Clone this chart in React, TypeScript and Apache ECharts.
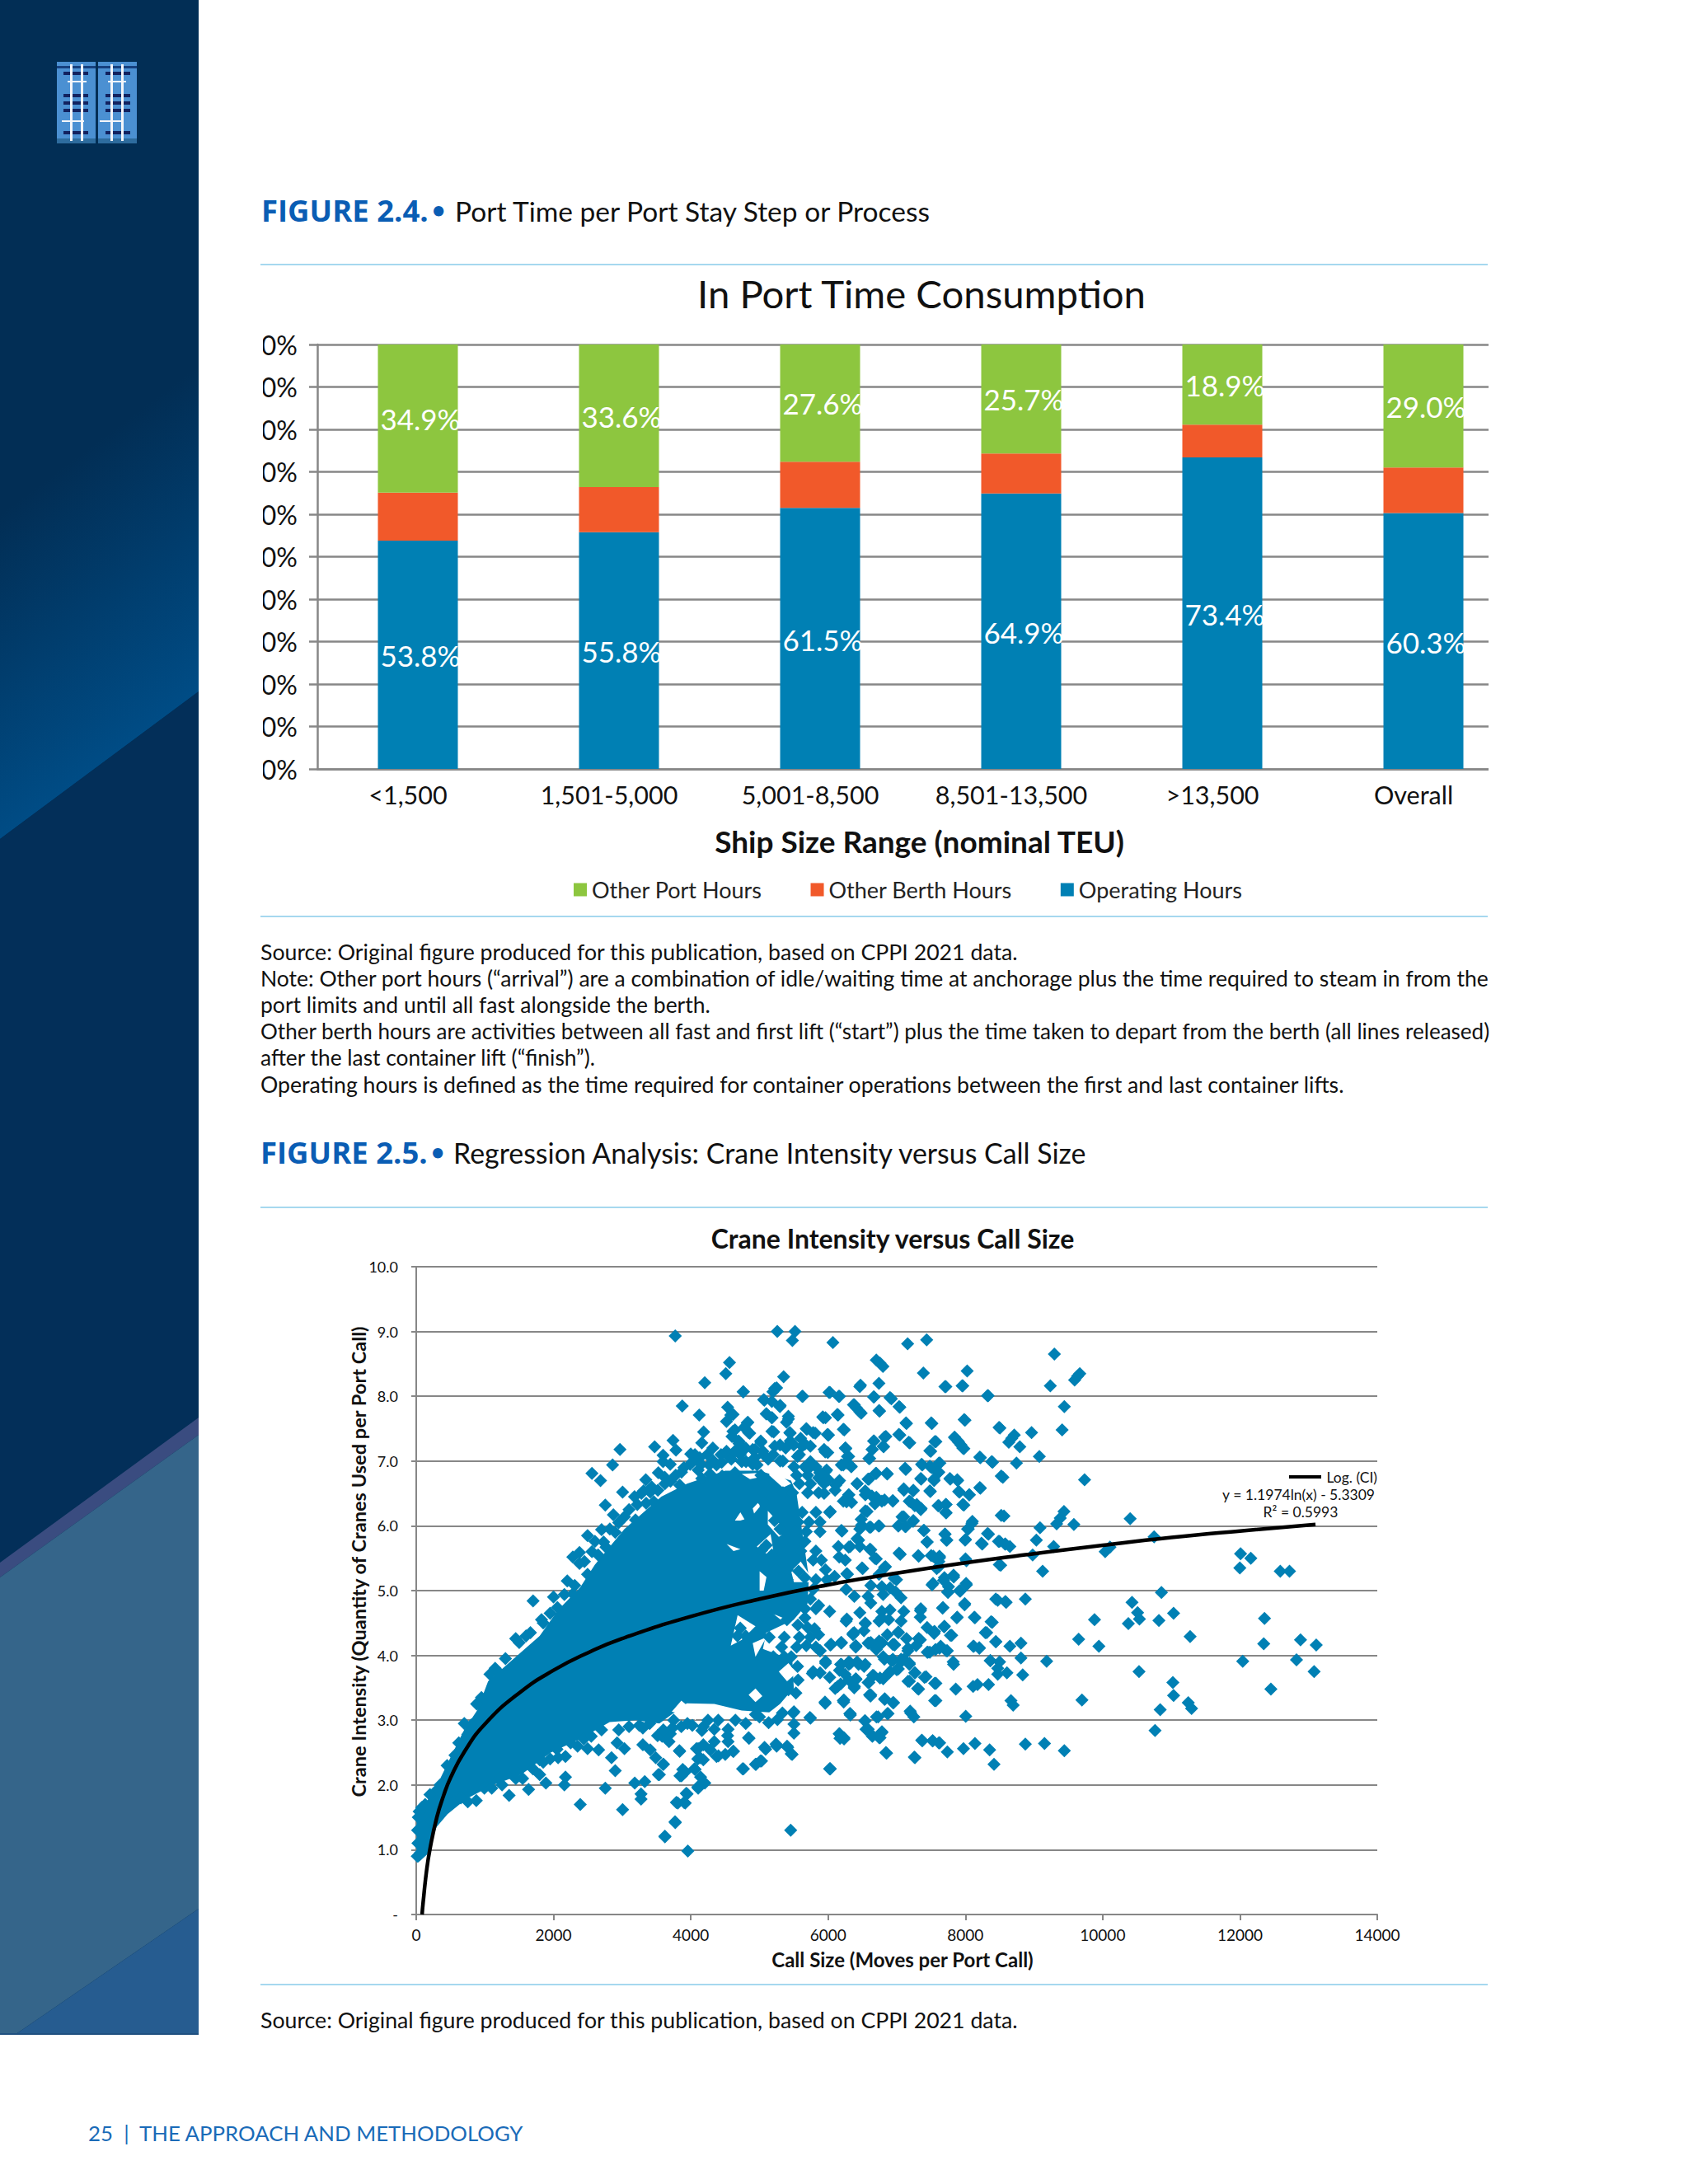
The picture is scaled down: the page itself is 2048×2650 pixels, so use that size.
import React, { useEffect, useRef } from "react";
import * as echarts from "echarts";

const FONT = "Lato";

const categories = ["<1,500", "1,501-5,000", "5,001-8,500", "8,501-13,500", ">13,500", "Overall"];
const operatingHours = [53.8, 55.8, 61.5, 64.9, 73.4, 60.3];
const otherBerthHours = [11.3, 10.6, 10.9, 9.4, 7.7, 10.7];
const otherPortHours = [34.9, 33.6, 27.6, 25.7, 18.9, 29.0];
const shareTicks = { min: 0, max: 100, step: 10 };

const trendLine = [
  [85, 0], [100, 0.18], [150, 0.67], [200, 1.01], [300, 1.5], [400, 1.84], [500, 2.11], [700, 2.51], [1000, 2.94],
  [1500, 3.42], [2000, 3.77], [2500, 4.04], [3000, 4.26], [4000, 4.6], [5000, 4.87], [6000, 5.09], [7000, 5.27],
  [8000, 5.43], [9000, 5.57], [10000, 5.7], [11000, 5.82], [12000, 5.92], [13100, 6.02],
];

// outline of the part of the cloud where the diamonds overlap into one solid mass
const solidCloudOutline = [
  [5, 0.85], [5, 1.55], [60, 1.6], [188, 1.8], [350, 2.1], [510, 2.45], [698, 2.85], [886, 3.15], [1047, 3.6],
  [1261, 3.8], [1476, 4.0], [1798, 4.3], [2067, 4.7], [2389, 5.05], [2603, 5.4], [3033, 5.95], [3570, 6.45],
  [3945, 6.65], [4500, 6.85], [5000, 6.85], [5460, 6.7], [5540, 6.5], [5660, 5.64], [5720, 5.2], [5700, 4.8],
  [5500, 4.55], [5100, 4.35], [5050, 4.1], [5300, 4.0], [5480, 3.9], [5500, 3.5], [5300, 3.25], [5142, 3.12],
  [4742, 3.15], [4342, 3.25], [3942, 3.26], [3542, 2.95], [3200, 3.0], [2818, 2.97], [2389, 2.71],
  [1960, 2.5], [1530, 2.16], [1100, 1.99], [725, 1.78], [456, 1.55], [295, 1.35], [161, 0.93], [27, 0.8],
];

// white holes left inside the solid mass
const solidCloudGaps = [
  [[5162, 6.91], [5462, 6.65], [5342, 6.59], [5142, 6.78]],
  [[4742, 6.8], [5022, 6.82], [5042, 6.76], [4862, 6.72]],
  [[4902, 6.27], [5002, 6.38], [5002, 6.29], [4922, 6.19]],
  [[5122, 6.23], [5402, 5.91], [5282, 5.83], [5122, 6.02]],
  [[4962, 5.68], [5162, 5.87], [5222, 5.49], [5002, 5.64]],
  [[5462, 5.3], [5602, 5.45], [5802, 5.13], [5502, 5.13]],
  [[4642, 6.08], [4722, 6.21], [4782, 6.1], [4722, 6.08]],
  [[4522, 5.72], [4722, 5.64], [4622, 5.61]],
  [[5002, 5.3], [5102, 5.21], [5062, 5.0], [5002, 5.0]],
  [[4682, 4.62], [4942, 4.45], [4742, 4.24], [4582, 4.15]],
  [[5202, 4.64], [5542, 4.49], [5702, 4.36], [5382, 4.49]],
  [[4902, 4.19], [5102, 4.28], [4942, 3.98]],
  [[5282, 3.75], [5422, 3.88], [5542, 3.73], [5402, 3.6]],
  [[4842, 3.39], [4942, 3.49], [5042, 3.37], [4942, 3.28]],
  [[3982, 3.13], [4062, 3.22], [4142, 3.09], [4062, 3.0]],
  [[3722, 3.13], [3862, 3.3], [4002, 3.18], [3822, 3.11]],
];

const pointsFarRight = [
  [6070, 8.83], [7158, 8.81], [7436, 8.87], [9296, 8.65], [6702, 8.56], [6756, 8.51], [6799, 8.46], [7388, 8.36],
  [8026, 8.39], [9666, 8.35], [9634, 8.31], [9591, 8.25], [6472, 8.17], [6740, 8.2], [7715, 8.15], [7962, 8.16],
  [9237, 8.16], [8332, 8.01], [6027, 8.06], [6166, 8.0], [6670, 7.99], [6922, 7.96], [6370, 7.87], [6413, 7.82],
  [6482, 7.74], [7045, 7.83], [6750, 7.77], [9441, 7.84], [6145, 7.71], [5962, 7.67], [7994, 7.63], [7142, 7.58],
  [7512, 7.58], [8503, 7.51], [6236, 7.48], [9409, 7.48], [8964, 7.44], [7045, 7.4], [6005, 7.4], [6842, 7.38],
  [8712, 7.4], [8675, 7.35], [8632, 7.29], [7844, 7.36], [7892, 7.31], [7935, 7.25], [7978, 7.19], [6670, 7.31],
  [7570, 7.3], [7190, 7.28], [6809, 7.22], [8793, 7.22], [6643, 7.18], [7495, 7.15], [6257, 7.19], [5995, 7.13],
  [6300, 7.07], [6606, 7.04], [8219, 7.05], [8396, 6.98], [9077, 7.07], [8744, 6.97], [6273, 6.97], [6338, 6.91],
  [6193, 6.94], [7629, 6.97], [7372, 6.94], [7506, 6.9], [7131, 6.87], [7613, 6.83], [6702, 6.81], [6863, 6.8],
  [5979, 6.86], [8546, 6.75], [9736, 6.71], [7356, 6.72], [7780, 6.72], [7887, 6.7], [7544, 6.7], [6595, 6.72],
  [6166, 6.7], [6005, 6.71], [6423, 6.65], [6113, 6.63], [7104, 6.55], [7238, 6.54], [8219, 6.58], [7490, 6.53],
  [7914, 6.52], [8058, 6.48], [6541, 6.54], [6638, 6.46], [6300, 6.48], [6268, 6.37], [6783, 6.38], [6943, 6.38],
  [7200, 6.37], [7292, 6.33], [7613, 6.31], [7720, 6.33], [7356, 6.27], [7978, 6.32], [6032, 6.22], [6568, 6.22],
  [7720, 6.2], [9436, 6.22], [8562, 6.15], [10400, 6.11], [9382, 6.12], [7077, 6.14], [7238, 6.07], [8096, 6.04],
  [9329, 6.03], [9580, 6.02], [9087, 5.97], [6745, 6.0], [6622, 5.98], [7024, 6.0], [7131, 5.99], [6488, 6.01],
  [7399, 5.93], [8032, 5.95], [6193, 5.93], [8337, 5.87], [10749, 5.83], [7704, 5.87], [7731, 5.78], [7996, 5.78],
  [7442, 5.75], [9034, 5.78], [8246, 5.72], [8498, 5.76], [8578, 5.72], [8648, 5.68], [9286, 5.68], [6445, 5.78],
  [6300, 5.67], [10106, 5.67], [6622, 5.63], [10036, 5.6], [7051, 5.56], [7320, 5.53], [7533, 5.53], [7624, 5.51],
  [8980, 5.55], [6702, 5.49], [8015, 5.46], [12008, 5.57], [12158, 5.5], [11998, 5.35], [8514, 5.39], [7613, 5.37],
  [6504, 5.34], [6836, 5.37], [9125, 5.3], [12587, 5.3], [12721, 5.3], [6273, 5.26], [7828, 5.24], [6997, 5.17],
  [7694, 5.2], [7528, 5.11], [8015, 5.09], [7747, 4.97], [7924, 4.99], [10856, 4.97], [8471, 4.85], [8594, 4.82],
  [8873, 4.87], [10427, 4.82], [10508, 4.66], [10535, 4.56], [10374, 4.49], [11033, 4.65], [9881, 4.55],
  [10819, 4.54], [12357, 4.57], [7988, 4.78], [7667, 4.73], [7345, 4.69], [7881, 4.59], [8139, 4.58], [8391, 4.51],
  [8310, 4.35], [8444, 4.21], [8809, 4.19], [9650, 4.25], [11274, 4.29], [9945, 4.14], [12346, 4.18], [12882, 4.24],
  [13111, 4.16], [12040, 3.91], [12823, 3.93], [13080, 3.75], [12450, 3.48], [10529, 3.75], [9184, 3.91],
  [8809, 3.96], [8364, 3.92], [8498, 3.9], [8471, 3.8], [8605, 3.73], [8471, 3.71], [8835, 3.7], [7828, 3.86],
  [11022, 3.58], [11033, 3.38], [9698, 3.31], [11247, 3.27], [11295, 3.18], [10838, 3.16], [10763, 2.84],
  [8664, 3.3], [8696, 3.23], [8005, 3.06], [7570, 3.3], [7860, 3.48], [8112, 3.52], [8176, 3.55], [8337, 3.55],
  [7570, 3.57], [7318, 3.48], [7184, 3.6], [7265, 3.73], [7426, 3.67], [6622, 3.39], [6230, 3.31], [6825, 3.33],
  [6954, 3.27], [6316, 3.1], [7195, 3.14], [7249, 3.05], [6729, 3.05], [6873, 3.1], [6541, 2.99], [6552, 2.86],
  [6649, 2.76], [6756, 2.73], [6783, 2.81], [6166, 2.79], [6230, 2.73], [7372, 2.68], [7522, 2.68], [7613, 2.65],
  [8139, 2.64], [7737, 2.51], [7972, 2.56], [8353, 2.54], [8873, 2.63], [9152, 2.64], [9441, 2.53], [8417, 2.32],
  [7265, 2.42], [6852, 2.49], [6032, 2.25], [6193, 4.2], [6032, 4.16], [6407, 4.14], [6622, 4.2], [6783, 4.2],
  [6970, 4.16], [7318, 4.26], [7453, 4.05], [7640, 4.14], [7737, 4.07], [8123, 4.14], [8203, 4.11], [8648, 4.14],
  [6820, 3.94], [6943, 3.92], [7104, 3.94], [7184, 3.88], [7000, 3.78], [6890, 3.73], [6756, 3.65], [6541, 3.86],
  [6327, 3.88], [6193, 3.86], [6166, 3.77], [6247, 3.71], [6407, 3.63], [6380, 3.5], [6140, 3.52], [6595, 3.58],
  [6649, 3.69], [6273, 4.56], [6541, 4.5], [6783, 4.58], [7024, 4.35], [7550, 4.37], [7694, 4.45], [7801, 4.31],
  [6380, 4.35],
];

const pointsUpperMiddle = [
  [4762, 8.07], [5222, 8.12], [5062, 7.95], [5302, 7.86], [5622, 8.0], [6014, 8.06], [6154, 8.0], [6462, 8.15],
  [6662, 7.99], [6902, 7.98], [7034, 7.84], [6382, 7.87], [6462, 7.76], [6742, 7.78], [7702, 8.15], [7952, 8.16],
  [8322, 8.01], [5922, 7.68], [6134, 7.72], [6222, 7.49], [5990, 7.41], [7134, 7.59], [7502, 7.59], [7982, 7.64],
  [8490, 7.52], [7030, 7.41], [7174, 7.29], [6822, 7.37], [6662, 7.31], [6802, 7.23], [6642, 7.18], [7554, 7.3],
  [7482, 7.16], [7842, 7.37], [7902, 7.29], [7962, 7.2], [6594, 7.04], [6250, 7.2], [6282, 7.07], [6222, 6.94],
  [6334, 6.92], [8210, 7.06], [8382, 6.99], [8522, 6.77], [7122, 6.89], [7362, 6.95], [7482, 6.92], [7614, 6.97],
  [7602, 6.82], [7542, 6.72], [7350, 6.73], [6694, 6.81], [6854, 6.81], [6582, 6.72], [6422, 6.65], [7774, 6.73],
  [7882, 6.71], [8210, 6.59], [7102, 6.57], [7242, 6.55], [7482, 6.54], [7902, 6.53], [8054, 6.48], [6142, 6.67],
  [6102, 6.55], [5942, 6.5], [6302, 6.48], [6222, 6.38], [6542, 6.48], [6702, 6.44], [6822, 6.4], [6942, 6.39],
  [6342, 6.36], [6682, 6.34], [7182, 6.38], [7262, 6.31], [7350, 6.25], [7602, 6.31], [7714, 6.33], [7714, 6.21],
  [7962, 6.33], [8522, 6.16], [7102, 6.14], [7242, 6.08], [8102, 6.07], [8042, 5.95], [8002, 5.79], [7022, 6.0],
  [7122, 5.99], [7390, 5.93], [7702, 5.87], [7722, 5.78], [8322, 5.88], [8234, 5.73], [8482, 5.76], [8582, 5.72],
  [7442, 5.75], [6542, 6.23], [6482, 6.1], [6602, 5.98], [6734, 6.0], [6462, 5.95], [6422, 5.8], [6202, 5.92],
  [6150, 5.68], [6322, 5.68], [6462, 5.68], [6610, 5.64], [7034, 5.58], [7314, 5.54], [7502, 5.54], [7622, 5.53],
  [7614, 5.45], [8002, 5.49], [8494, 5.4], [6682, 5.5], [6162, 5.52], [6250, 5.47], [6494, 5.35], [6822, 5.36],
  [6282, 5.25], [6094, 5.22], [6742, 5.25], [6962, 5.19], [7582, 5.34], [7830, 5.21], [7682, 5.16], [7754, 5.06],
  [7514, 5.09], [8010, 5.11], [7914, 5.0], [7742, 4.98], [6902, 5.04], [7062, 4.89], [6782, 5.06], [6622, 5.08],
  [6262, 5.02], [6382, 4.91], [6582, 4.91], [6802, 4.94], [6982, 4.98], [8442, 4.87], [8582, 4.83], [7990, 4.8],
  [7674, 4.74], [6022, 4.68], [5862, 4.77], [6462, 4.66], [6622, 4.81], [6782, 4.68], [6902, 4.7], [7102, 4.68],
  [7350, 4.72], [7342, 4.59], [7874, 4.58], [8130, 4.59], [8374, 4.52], [6262, 4.53], [6542, 4.49], [6742, 4.53],
  [6882, 4.55], [7062, 4.53], [6522, 4.38], [6362, 4.34], [5802, 4.41], [5862, 4.32], [7442, 4.43], [7542, 4.36],
  [7690, 4.44], [7782, 4.31], [8290, 4.35], [7022, 4.36], [7322, 4.26], [7142, 4.26], [6942, 4.17], [8442, 4.21],
  [8114, 4.14], [8202, 4.12], [6782, 4.19], [6602, 4.19], [6402, 4.15], [6190, 4.2], [6042, 4.17], [5882, 4.07],
  [5682, 4.15], [7282, 4.15], [7482, 4.05], [7622, 4.11], [7722, 4.07], [7162, 4.07], [6702, 4.09], [5962, 3.91],
  [6302, 3.9], [6422, 3.9], [6922, 3.92], [7062, 3.9], [7822, 3.9], [8362, 3.92],
  [4582, 7.71], [4614, 7.46], [4822, 7.59], [4842, 7.44], [5182, 7.46], [5102, 7.73], [5182, 7.67], [5422, 7.65],
  [5442, 7.44], [5682, 7.5], [5782, 7.44], [4702, 7.27], [4902, 7.18], [5022, 7.29], [5222, 7.23], [5382, 7.2],
  [5622, 7.23], [5742, 7.23], [5942, 7.18], [4562, 7.06], [4742, 6.99], [4902, 6.95], [5062, 7.1], [5302, 7.0],
  [5582, 7.1], [5742, 6.99], [5962, 6.84], [5862, 6.74], [5702, 6.87],
];

const pointsEdgeOfSolidCloud = [
  [5502, 6.91], [5662, 6.91], [5822, 6.91], [5022, 6.78], [5542, 6.78], [5702, 6.78], [5902, 6.78],
  [5062, 6.65], [5582, 6.65], [5742, 6.65], [5942, 6.65], [5062, 6.51], [5202, 6.51],
  [5342, 6.51], [5482, 6.51], [5702, 6.51], [5862, 6.51], [5062, 6.36], [5202, 6.36], [5342, 6.36], [5442, 6.36],
  [5462, 6.21], [5622, 6.21], [5822, 6.21], [6022, 6.21], [5562, 6.06], [5722, 6.06], [5882, 6.06],
  [5362, 5.91], [5522, 5.91], [5682, 5.91], [5882, 5.91], [5342, 5.76], [5502, 5.76], [5662, 5.76], [5282, 5.61],
  [5442, 5.61], [5602, 5.61], [5822, 5.61], [5222, 5.47], [5382, 5.47], [5782, 5.47], [5902, 5.47],
  [5242, 5.32], [5402, 5.32], [5962, 5.32], [5262, 5.17], [5402, 5.17], [5822, 5.17],
  [5982, 5.17], [5262, 5.02], [5422, 5.02], [5582, 5.02], [5782, 5.02], [5102, 4.87], [5262, 4.87],
  [5422, 4.87], [5582, 4.87], [5742, 4.87], [5062, 4.72], [5222, 4.72], [5382, 4.72], [5662, 4.72], [5822, 4.72],
  [5662, 4.58], [5062, 4.43], [5702, 4.43], [5142, 4.28], [5362, 4.28], [5582, 4.28], [5742, 4.28],
  [5322, 4.13], [5542, 4.13], [5822, 4.13], [5202, 3.98], [5362, 3.98], [5462, 3.98],
  [4107, 6.86], [4268, 6.94], [4456, 6.77], [4026, 6.99], [4590, 7.03], [4804, 6.99], [4375, 6.94], [4160, 6.73],
  [4482, 6.65], [4643, 6.82], [4965, 6.94], [5127, 7.03], [3838, 6.63], [3704, 6.69], [3409, 6.52], [5341, 7.0],
  [5555, 7.07], [5717, 6.94], [5878, 6.82], [3194, 6.09], [2764, 5.67], [2496, 5.25], [2308, 5.08],
  [4720, 4.42], [4800, 4.3], [4680, 4.3], [5040, 5.38], [5030, 5.62], [5100, 5.7], [5180, 5.55], [5400, 4.55],
  [5560, 4.47], [5220, 6.08], [5300, 5.95], [5570, 5.3], [5660, 5.2],
];

const pointsUpperLeft = [
  [3773, 8.93], [5260, 9.0], [5518, 9.0], [5480, 8.86], [4563, 8.52], [4509, 8.35], [4203, 8.21], [5352, 8.3],
  [4766, 8.07], [5250, 8.13], [5196, 8.07], [5072, 7.94], [5180, 7.92], [5298, 7.84], [5631, 8.0], [3875, 7.85],
  [4536, 7.83], [4616, 7.72], [4520, 7.61], [4123, 7.71], [5099, 7.73], [5180, 7.67], [5421, 7.69], [5394, 7.6],
  [4187, 7.45], [4643, 7.48], [4831, 7.6], [4777, 7.52], [4858, 7.43], [5207, 7.45], [4600, 7.38], [5931, 7.67],
  [5690, 7.49], [5813, 7.43], [6001, 7.4], [5448, 7.43], [5448, 7.31], [3741, 7.32], [3473, 7.22], [3784, 7.17],
  [4321, 7.2], [4160, 7.28], [3999, 7.11], [2968, 7.18], [3596, 7.09], [4697, 7.31], [5019, 7.31], [4938, 7.18],
  [5663, 7.26], [5958, 7.14], [6253, 7.2], [2861, 6.94], [3596, 6.99], [2560, 6.81], [2684, 6.7], [3527, 6.82],
  [3865, 6.83], [3344, 6.71], [3006, 6.52], [2754, 6.32], [2872, 6.17], [3033, 6.14], [3221, 6.33], [3312, 6.54],
  [3462, 6.37], [3623, 6.65], [2496, 5.85], [2603, 5.76], [2700, 5.94], [2899, 5.9], [2281, 5.52], [2378, 5.59],
  [2378, 5.42], [2158, 4.94], [1702, 4.84], [1825, 4.55], [1449, 4.26], [1664, 4.35], [2056, 4.74], [2281, 4.95],
  [1074, 3.71], [1208, 3.73], [805, 2.93], [751, 2.78], [564, 2.46], [43, 1.59], [349, 2.0],
  [2000, 4.9], [1950, 4.65], [2200, 5.15], [2450, 5.45], [2560, 5.6], [2650, 5.55], [2730, 5.75], [2820, 5.95],
  [2950, 6.05], [3100, 6.25], [3180, 6.45], [3280, 6.5], [3350, 6.35], [3430, 6.6], [3520, 6.55], [3620, 6.75],
  [3700, 6.95], [3780, 6.78], [3900, 6.9], [3990, 6.95], [4060, 7.1], [4130, 7.05], [4240, 7.1], [4330, 7.0],
  [4440, 7.1], [4520, 7.15], [4640, 7.15], [4720, 7.1], [4800, 7.2], [4930, 7.05], [5050, 7.15], [5200, 7.1],
  [5300, 7.25], [5500, 7.25], [5600, 7.35], [4150, 6.95], [4700, 7.3], [4450, 6.98], [4280, 6.8], [1500, 4.2],
  [1600, 4.3], [1850, 4.5], [1300, 3.95], [1150, 3.8], [950, 3.35], [880, 3.25], [700, 2.95], [620, 2.65],
  [450, 2.3], [280, 1.9], [200, 1.85], [130, 1.7], [80, 1.65],
];

const pointsLowerFringe = [
  [5455, 1.3], [3622, 1.21], [3770, 1.43], [3790, 1.73], [3902, 1.73], [3934, 1.87], [4102, 1.97], [4182, 2.04],
  [4142, 2.12], [4062, 2.24], [3882, 2.24], [3842, 2.14], [3602, 2.32], [3542, 2.16], [4754, 2.25], [4942, 2.32],
  [5014, 2.37], [6022, 2.25], [3834, 2.53], [4102, 2.4], [4182, 2.39], [4402, 2.45], [4502, 2.47], [4622, 2.52],
  [5074, 2.58], [5242, 2.63], [5402, 2.6], [5462, 2.48], [4842, 2.73], [6162, 2.79], [6232, 2.71], [6842, 2.5],
  [7256, 2.43], [7364, 2.69], [7524, 2.68], [7624, 2.65], [5502, 2.8], [5502, 2.94], [5492, 3.11], [5735, 3.04],
  [5134, 2.96], [5262, 3.01], [5334, 3.11], [5955, 3.28], [6222, 3.3], [6322, 3.1], [6534, 2.99], [6584, 2.86],
  [6644, 2.75], [6744, 2.73], [6784, 2.82], [6704, 3.05], [6864, 3.1], [6824, 3.32], [6944, 3.27], [7204, 3.11],
  [6604, 3.39], [7552, 3.3], [5531, 3.42], [5563, 3.62], [5555, 3.83], [5783, 3.75], [5883, 3.73], [6023, 3.66],
  [6103, 3.49], [6183, 3.56], [6303, 3.62], [6383, 3.52], [6403, 3.64], [6583, 3.58], [6663, 3.69], [6803, 3.64],
  [6903, 3.75], [7023, 3.79], [7164, 3.6], [7264, 3.73], [7404, 3.66], [7304, 3.49], [7552, 3.57], [5963, 3.88],
  [6183, 3.86], [6303, 3.86], [6443, 3.86], [6524, 3.83], [6943, 3.94], [7064, 3.94], [7184, 3.86], [5883, 4.07],
  [6043, 4.17], [6192, 4.19], [6403, 4.13], [6583, 4.19], [6703, 4.13], [6803, 3.98], [6743, 4.22], [6963, 4.17],
  [7164, 4.11], [7344, 4.24], [7444, 4.05], [7564, 4.09], [6363, 4.32], [6863, 4.32], [7544, 4.34],
  [3702, 2.79], [3862, 2.9], [4022, 2.92], [4182, 2.9], [4342, 2.86], [4542, 2.86], [4342, 2.67], [4182, 2.62],
  [4542, 2.67], [4082, 2.56], [4282, 2.54], [3582, 2.75], [3682, 2.67], [5502, 3.13], [5422, 3.47], [4942, 3.09],
  [751, 1.74], [875, 1.76], [1353, 1.84], [1637, 1.93], [1889, 2.03], [1798, 2.16], [2158, 2.0], [2174, 2.12],
  [2754, 1.95], [2389, 1.7], [3006, 1.62], [2899, 2.22], [3183, 2.03], [3329, 2.05], [3275, 1.86], [3275, 1.78],
  [3489, 2.42], [3596, 2.32], [3527, 2.16], [3811, 1.72], [3919, 1.72], [3946, 1.86], [3865, 2.14], [3919, 2.2],
  [4053, 2.25], [4107, 1.95], [4204, 2.03], [3774, 1.42], [3623, 1.2], [3956, 0.98], [4767, 2.25], [4950, 2.32],
  [5030, 2.37], [4848, 2.72], [5090, 2.55], [5250, 2.6], [5411, 2.58], [5476, 2.47], [5771, 3.72], [5958, 3.26],
  [5744, 3.03], [6173, 2.72], [6028, 2.25], [6227, 3.28], [6324, 3.08], [6618, 3.37],
  [2496, 2.56], [2657, 2.54], [2845, 2.42], [3033, 2.56], [2926, 2.65], [3301, 2.62], [3409, 2.54], [3838, 2.52],
  [4107, 2.56], [4134, 2.42], [4375, 2.44], [4617, 2.52], [4536, 2.76], [2174, 2.44], [2067, 2.42], [1798, 2.39],
  [1422, 2.25], [1208, 2.1], [993, 1.95], [2442, 2.71], [3301, 2.88], [3731, 2.88], [4161, 2.84], [3516, 2.76],
  [15, 0.9], [25, 1.1], [20, 1.3], [30, 1.5], [60, 0.95], [100, 1.1], [120, 1.3], [150, 1.45], [220, 1.45],
  [300, 1.55], [350, 1.6], [400, 1.65], [550, 1.75], [650, 1.8], [1100, 1.95], [1250, 2.0], [1450, 2.1], [1550, 2.1],
  [1700, 2.25], [1850, 2.35], [1950, 2.4], [2050, 2.55], [2250, 2.65], [2350, 2.6], [2550, 2.75], [2700, 2.85],
  [2950, 2.85], [3100, 2.9], [3250, 2.92], [3400, 2.95], [3600, 2.85], [3750, 3.0], [3950, 2.95], [4250, 3.0],
  [4400, 3.0], [4650, 3.0], [4800, 2.95], [5000, 3.05],
];

const sourceNoteLines = [
  "Source: Original figure produced for this publication, based on CPPI 2021 data.",
  "Note: Other port hours (“arrival”) are a combination of idle/waiting time at anchorage plus the time required to steam in from the",
  "port limits and until all fast alongside the berth.",
  "Other berth hours are activities between all fast and first lift (“start”) plus the time taken to depart from the berth (all lines released)",
  "after the last container lift (“finish”).",
  "Operating hours is defined as the time required for container operations between the first and last container lifts.",
];

const BLUE = "#0080B4";
const GREEN = "#8DC63F";
const ORANGE = "#F1592A";
const GRID = "#878787";
const HEADING = "#0A5DB4";
const RULE = "#A6D8EF";

const text = (s: string, x: number, y: number, fontSize: number, extra: any = {}) => ({
  type: "text",
  x,
  y,
  z: 120,
  silent: true,
  style: { text: s, fontSize, fontFamily: FONT, fill: "#111", textVerticalAlign: "middle", ...extra },
});
const box = (x: number, y: number, width: number, height: number, fill: any, z = 100) => ({
  type: "rect",
  z,
  silent: true,
  shape: { x, y, width, height },
  style: { fill },
});
const poly = (points: number[][], fill: any) => ({ type: "polygon", z: 101, silent: true, shape: { points }, style: { fill } });
const rule = (y: number) => box(316, y - 1, 1489, 2, RULE, 110);

function logoParts() {
  const parts: any[] = [];
  [
    { x: 69, bars: 77, v: [86, 99], h1: [82, 105], h2: [75, 102] },
    { x: 119, bars: 128, v: [135, 148], h1: [131, 153], h2: [121, 149] },
  ].forEach((c) => {
    parts.push(box(c.x, 75, 47, 99, "#4B90D2", 102));
    parts.push(box(c.x, 80, 47, 3, "#16407E", 103));
    parts.push(box(c.x, 168, 47, 6, "#2E6C9E", 103));
    [89, 116, 125, 134, 161].forEach((y) => parts.push(box(c.bars, y - 2, 30, 4, "#12225F", 103)));
    c.v.forEach((x) => parts.push(box(x - 1, 78, 3, 93, "#F4F6FA", 104)));
    parts.push(box(c.h1[0], 98, c.h1[1] - c.h1[0], 2, "#F4F6FA", 104));
    parts.push(box(c.h2[0], 146, c.h2[1] - c.h2[0], 2, "#F4F6FA", 104));
  });
  return parts;
}

function sidebarParts() {
  return [
    box(0, 0, 241, 2469, "#022E55", 100),
    poly([[0, 380], [241, 380], [241, 839], [0, 1018]], new echarts.graphic.LinearGradient(-150, 568, 120, 928, [
      { offset: 0, color: "#022E55" },
      { offset: 0.3, color: "#022E55" },
      { offset: 1, color: "#004C85" },
    ], true)),
    poly([[0, 1018], [241, 839], [241, 1720], [0, 1896]], "#032F59"),
    poly([[0, 1896], [241, 1720], [241, 1741], [0, 1914]], "#3A4C80"),
    poly([[0, 1914], [241, 1741], [241, 2316], [18, 2469], [0, 2469]], "#35658A"),
    poly([[241, 2316], [241, 2469], [18, 2469]], "#265C90"),
    box(0, 2467, 241, 2, "#1F5080", 102),
  ];
}

const allPoints = [...pointsFarRight, ...pointsUpperMiddle, ...pointsEdgeOfSolidCloud, ...pointsUpperLeft, ...pointsLowerFringe];

export default function App() {
  const ref = useRef<HTMLDivElement>(null);
  useEffect(() => {
    document.body.style.margin = "0";
    const chart = echarts.init(ref.current!, null, { renderer: "svg" });
    const noteY = [1155, 1187, 1219, 1251, 1283, 1316];
    const noteSize = [26.7, 26.5, 26.5, 26.05, 26.35, 26.65];
    chart.setOption({
      animation: false,
      backgroundColor: "#ffffff",
      textStyle: { fontFamily: FONT },
      title: [
        { text: "In Port Time Consumption", left: 1113, top: 327, textAlign: "center", textStyle: { fontSize: 47.3, fontWeight: "normal", color: "#111", fontFamily: FONT } },
        { text: "Crane Intensity versus Call Size", left: 1078, top: 1481, textAlign: "center", textStyle: { fontSize: 32, fontWeight: "bold", color: "#111", fontFamily: FONT } },
      ],
      legend: {
        left: 691,
        top: 1061,
        itemWidth: 16,
        itemHeight: 16,
        itemGap: 59,
        selectedMode: false,
        icon: "rect",
        data: ["Other Port Hours", "Other Berth Hours", "Operating Hours"],
        textStyle: { fontSize: 27, color: "#222", fontFamily: FONT, padding: [0, 0, 0, 1] },
      },
      grid: [
        { left: 385, top: 418, width: 1464, height: 515 },
        { left: 505, top: 1537, width: 1166, height: 786 },
      ],
      xAxis: [
        {
          type: "category",
          gridIndex: 0,
          data: categories,
          name: "Ship Size Range (nominal TEU)",
          nameLocation: "middle",
          nameGap: 69,
          nameTextStyle: { fontSize: 37, fontWeight: "bold", color: "#111", fontFamily: FONT, padding: [0, 3, 0, 0] },
          axisLine: { lineStyle: { color: GRID, width: 2.5 } },
          axisTick: { length: 12, lineStyle: { color: GRID, width: 2.5 } },
          axisLabel: { fontSize: 30.5, color: "#111", margin: 15, fontFamily: FONT, padding: [0, 24, 0, 0] },
        },
        {
          type: "value",
          gridIndex: 1,
          min: 0,
          max: 14000,
          interval: 2000,
          name: "Call Size (Moves per Port Call)",
          nameLocation: "middle",
          nameGap: 42,
          nameTextStyle: { fontSize: 24, fontWeight: "bold", color: "#111", fontFamily: FONT, padding: [0, 0, 0, 14] },
          splitLine: { show: false },
          axisLine: { lineStyle: { color: GRID, width: 2 } },
          axisTick: { length: 7, lineStyle: { color: GRID, width: 2 } },
          axisLabel: { fontSize: 19, color: "#111", margin: 15, fontFamily: FONT, formatter: (v: number) => String(v) },
        },
      ],
      yAxis: [
        {
          type: "value",
          gridIndex: 0,
          min: shareTicks.min,
          max: shareTicks.max,
          interval: shareTicks.step,
          axisLine: { show: true, lineStyle: { color: GRID, width: 2.5 } },
          axisTick: { show: true, length: 10, lineStyle: { color: GRID, width: 2.5 } },
          axisLabel: { fontSize: 32, color: "#111", margin: 24, fontFamily: FONT, formatter: "{value}%" },
          splitLine: { lineStyle: { color: GRID, width: 2.5 } },
        },
        {
          type: "value",
          gridIndex: 1,
          min: 0,
          max: 10,
          interval: 1,
          name: "Crane Intensity (Quantity of Cranes Used per Port Call)",
          nameLocation: "middle",
          nameGap: 58,
          nameMoveOverlap: false,
          nameTextStyle: { fontSize: 23.6, fontWeight: "bold", color: "#111", fontFamily: FONT, padding: [0, 0, 0, 70] },
          axisLine: { show: true, lineStyle: { color: GRID, width: 2 } },
          axisTick: { show: true, length: 6, lineStyle: { color: GRID, width: 2 } },
          axisLabel: { fontSize: 18, color: "#111", margin: 22, fontFamily: FONT, formatter: (v: number) => (v === 0 ? "-" : v.toFixed(1)) },
          splitLine: { lineStyle: { color: GRID, width: 2 } },
        },
      ],
      series: [
        {
          name: "Operating Hours",
          type: "bar",
          stack: "time",
          barWidth: 97,
          xAxisIndex: 0,
          yAxisIndex: 0,
          data: operatingHours,
          itemStyle: { color: BLUE },
          label: { show: true, position: "inside", offset: [3, 1], color: "#fff", fontSize: 35, fontFamily: FONT, formatter: (p: any) => `${p.value.toFixed(1)}%` },
        },
        {
          name: "Other Berth Hours",
          type: "bar",
          stack: "time",
          xAxisIndex: 0,
          yAxisIndex: 0,
          data: otherBerthHours,
          itemStyle: { color: ORANGE },
        },
        {
          name: "Other Port Hours",
          type: "bar",
          stack: "time",
          xAxisIndex: 0,
          yAxisIndex: 0,
          data: otherPortHours,
          itemStyle: { color: GREEN },
          label: { show: true, position: "inside", offset: [3, 0], color: "#fff", fontSize: 35, fontFamily: FONT, formatter: (p: any) => `${p.value.toFixed(1)}%` },
        },
        {
          name: "Solid cloud",
          type: "custom",
          xAxisIndex: 1,
          yAxisIndex: 1,
          z: 2,
          silent: true,
          data: solidCloudOutline,
          encode: { x: 0, y: 1 },
          renderItem: (params: any, api: any) => {
            if (params.dataIndex !== 0) return null;
            return {
              type: "group",
              children: [
                { type: "polygon", shape: { points: solidCloudOutline.map((p) => api.coord(p)) }, style: { fill: BLUE } },
                ...solidCloudGaps.map((gap) => ({
                  type: "polygon",
                  shape: { points: gap.map((p) => api.coord(p)) },
                  style: { fill: "#ffffff" },
                })),
              ],
            };
          },
        },
        {
          name: "CI",
          type: "scatter",
          xAxisIndex: 1,
          yAxisIndex: 1,
          z: 3,
          symbol: "diamond",
          symbolSize: 16,
          data: allPoints,
          itemStyle: { color: BLUE, opacity: 1 },
        },
        {
          name: "Log. (CI)",
          type: "line",
          xAxisIndex: 1,
          yAxisIndex: 1,
          z: 5,
          smooth: true,
          showSymbol: false,
          data: trendLine,
          lineStyle: { color: "#000", width: 4.5 },
        },
      ],
      graphic: [
        ...sidebarParts(),
        ...logoParts(),
        box(241, 400, 78, 560, "#ffffff", 100),
        box(1806, 400, 100, 640, "#ffffff", 100),
        text("FIGURE 2.4.", 317, 255, 36.5, { fontFamily: "Open Sans", fontWeight: "bold", fill: HEADING }),
        text("•", 524, 254, 28, { fontWeight: "bold", fill: HEADING }),
        text("Port Time per Port Stay Step or Process", 552, 256, 33.5),
        rule(321),
        rule(1112),
        ...sourceNoteLines.map((s, i) => text(s, 316, noteY[i], noteSize[i])),
        text("FIGURE 2.5.", 316, 1398, 36.5, { fontFamily: "Open Sans", fontWeight: "bold", fill: HEADING }),
        text("•", 523, 1397, 28, { fontWeight: "bold", fill: HEADING }),
        text("Regression Analysis: Crane Intensity versus Call Size", 550, 1399, 33.9),
        rule(1465),
        rule(2408),
        { type: "line", z: 120, silent: true, shape: { x1: 1564, y1: 1792, x2: 1603, y2: 1792 }, style: { stroke: "#000", lineWidth: 4 } },
        text("Log. (CI)", 1671, 1792, 17.5, { textAlign: "right" }),
        text("y = 1.1974ln(x) - 5.3309", 1668, 1813, 17.5, { textAlign: "right" }),
        text("R² = 0.5993", 1578, 1834, 17.5, { textAlign: "center" }),
        text(sourceNoteLines[0], 316, 2451, 26.7),
        text("25  |  THE APPROACH AND METHODOLOGY", 107, 2588, 25.8, { fill: "#1A6BB8" }),
      ],
    });
    return () => chart.dispose();
  }, []);
  return <div ref={ref} style={{ position: "absolute", left: 0, top: 0, width: 2048, height: 2650 }} />;
}
